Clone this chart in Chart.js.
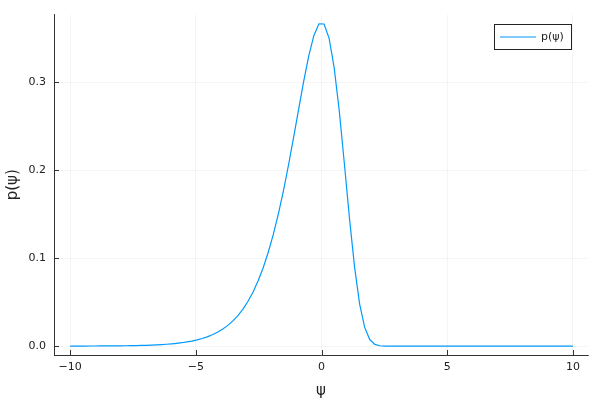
<!DOCTYPE html>
<html><head><meta charset="utf-8">
<script src="https://cdn.jsdelivr.net/npm/chart.js@4"></script>
<style>html,body{margin:0;padding:0;background:#fff}#wrap{width:600px;height:400px}</style>
</head><body><div id="wrap"><canvas id="c" width="600" height="400"></canvas></div>
<script>
const psi = [-10,-9.798,-9.596,-9.394,-9.192,-8.990,-8.788,-8.586,-8.384,-8.182,-7.980,-7.778,-7.576,-7.374,-7.172,-6.970,-6.768,-6.566,-6.364,-6.162,-5.960,-5.758,-5.556,-5.354,-5.152,-4.949,-4.747,-4.545,-4.343,-4.141,-3.939,-3.737,-3.535,-3.333,-3.131,-2.929,-2.727,-2.525,-2.323,-2.121,-1.919,-1.717,-1.515,-1.313,-1.111,-0.909,-0.707,-0.505,-0.303,-0.101,0.101,0.303,0.505,0.707,0.909,1.111,1.313,1.515,1.717,1.919,2.121,2.323,2.525,2.727,2.929,3.131,3.333,3.535,3.737,3.939,4.141,4.343,4.545,4.747,4.949,5.152,5.354,5.556,5.758,5.960,6.162,6.364,6.566,6.768,6.970,7.172,7.374,7.576,7.778,7.980,8.182,8.384,8.586,8.788,8.990,9.192,9.394,9.596,9.798,10];
const pPsi = [0.0000454,0.0000556,0.0000680,0.0000832,0.0001019,0.0001247,0.0001526,0.0001867,0.0002285,0.0002797,
0.0003422,0.0004188,0.0005125,0.0006272,0.0007675,0.0009392,0.0011492,0.0014060,0.0017202,0.0021046,
0.0025744,0.0031489,0.0038511,0.0047092,0.0057573,0.0070370,0.0085987,0.010503,0.012825,0.015650,
0.019085,0.023256,0.028311,0.034423,0.041795,0.050655,0.061257,0.073882,0.088816,0.106342,
0.126702,0.150057,0.176414,0.205542,0.236856,0.269286,0.301147,0.330044,0.352888,0.366069,
0.365943,0.349609,0.315997,0.266877,0.207428,0.145640,0.090296,0.048077,0.021247,0.0074747,
0.0019892,0.00037621,0.0000468,0.0000035,0.0000001,0,0,0,0,0,
0,0,0,0,0,0,0,0,0,0,
0,0,0,0,0,0,0,0,0,0,
0,0,0,0,0,0,0,0,0,0];
const xTicks = [-10,-5,0,5,10];
const xTickLabels = ["\u221210","\u22125","0","5","10"];
const yTicks = [0,0.1,0.2,0.3];
const yTickLabels = ["0.0","0.1","0.2","0.3"];
const seriesLabel = "p(\u03c8)";
const xTitle = "\u03c8";
const yTitle = "p(\u03c8)";

const LINE = "#009AFA";
const FONT = "'DejaVu Sans', sans-serif";

const innerTicks = {
  id: 'innerTicks',
  afterDatasetsDraw(chart) {
    const ctx = chart.ctx, a = chart.chartArea;
    const xs = chart.scales.x, ys = chart.scales.y;
    ctx.save();
    ctx.strokeStyle = '#333';
    ctx.lineWidth = 1;
    ctx.beginPath();
    xTicks.forEach(v => { const px = Math.round(xs.getPixelForValue(v)) + 0.5; ctx.moveTo(px, a.bottom); ctx.lineTo(px, a.bottom - 5); });
    yTicks.forEach(v => { const py = Math.round(ys.getPixelForValue(v)) + 0.5; ctx.moveTo(a.left, py); ctx.lineTo(a.left + 5, py); });
    ctx.stroke();
    // legend box
    const bx = 494, by = 24, bw = 77, bh = 25;
    ctx.fillStyle = '#fff';
    ctx.fillRect(bx, by, bw, bh);
    ctx.strokeStyle = '#222';
    ctx.strokeRect(bx + 0.5, by + 0.5, bw, bh);
    ctx.strokeStyle = chart.data.datasets[0].borderColor;
    ctx.lineWidth = 1.2;
    ctx.beginPath(); ctx.moveTo(500, by + 13); ctx.lineTo(536, by + 13); ctx.stroke();
    ctx.fillStyle = '#222';
    ctx.font = "11px " + FONT;
    ctx.textBaseline = 'middle';
    ctx.textAlign = 'left';
    ctx.fillText(chart.data.datasets[0].label, 541, by + 13);
    ctx.restore();
  }
};

new Chart(document.getElementById('c'), {
  type: 'line',
  data: {
    datasets: [{
      label: seriesLabel,
      data: psi.map((x, i) => ({x: x, y: pPsi[i]})),
      borderColor: LINE,
      borderWidth: 1.2,
      pointRadius: 0,
      tension: 0,
      fill: false
    }]
  },
  options: {
    responsive: false,
    animation: false,
    devicePixelRatio: 1,
    layout: { padding: { left: 0, top: 12, right: 12, bottom: 0 } },
    plugins: { legend: { display: false }, tooltip: { enabled: false } },
    scales: {
      x: {
        type: 'linear',
        min: -10.64, max: 10.6,
        afterBuildTicks: s => { s.ticks = xTicks.map(v => ({value: v})); },
        afterFit: s => { s.height = 45; },
        ticks: { callback: (v) => xTickLabels[xTicks.indexOf(v)], color: '#222', font: { family: FONT, size: 11 }, padding: 6, maxRotation: 0 },
        grid: { color: 'rgba(0,0,0,0.08)', lineWidth: 0.5, drawTicks: false },
        border: { color: '#333', width: 1 },
        title: { display: true, text: xTitle, color: '#222', font: { family: FONT, size: 15 }, padding: { top: 2, bottom: 0 } }
      },
      y: {
        type: 'linear',
        min: -0.0101, max: 0.3766,
        afterBuildTicks: s => { s.ticks = yTicks.map(v => ({value: v})); },
        afterFit: s => { s.width = 54; },
        ticks: { callback: (v) => yTickLabels[yTicks.indexOf(v)], color: '#222', font: { family: FONT, size: 11 }, padding: 8 },
        grid: { color: 'rgba(0,0,0,0.08)', lineWidth: 0.5, drawTicks: false },
        border: { color: '#333', width: 1 },
        title: { display: true, text: yTitle, color: '#222', font: { family: FONT, size: 15 }, padding: { top: 4, bottom: 0 } }
      }
    }
  },
  plugins: [innerTicks]
});
</script></body></html>
